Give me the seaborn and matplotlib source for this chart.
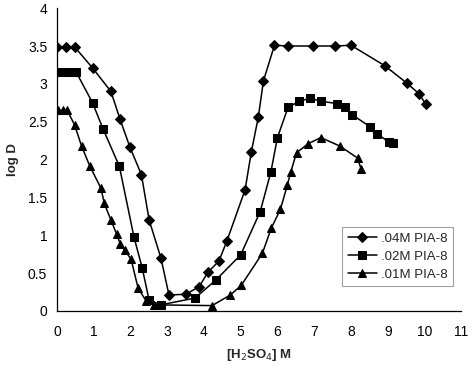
import matplotlib
matplotlib.use("Agg")
import matplotlib.pyplot as plt
import seaborn as sns
import pandas as pd

sns.set_theme(style="white")
plt.rcParams['font.family'] = ['Liberation Sans', 'DejaVu Sans']

x_04 = [0.0, 0.26, 0.48, 0.97, 1.47, 1.72, 1.99, 2.30, 2.51, 2.83, 3.05, 3.51, 3.87, 4.11,
        4.41, 4.63, 5.12, 5.29, 5.48, 5.62, 5.92, 6.30, 6.96, 7.58, 8.00, 8.92, 9.52, 9.85, 10.04]
y_04 = [3.49, 3.49, 3.49, 3.21, 2.90, 2.53, 2.16, 1.80, 1.20, 0.70, 0.21, 0.22, 0.32, 0.51,
        0.66, 0.93, 1.60, 2.10, 2.56, 3.04, 3.51, 3.50, 3.50, 3.50, 3.51, 3.24, 3.01, 2.87, 2.73]

x_02 = [0.01, 0.22, 0.35, 0.52, 0.97, 1.26, 1.70, 2.10, 2.32, 2.51, 2.83, 3.76, 4.33, 5.00,
        5.53, 5.82, 6.00, 6.29, 6.60, 6.89, 7.19, 7.61, 7.83, 8.04, 8.53, 8.72, 9.03, 9.14]
y_02 = [3.16, 3.16, 3.16, 3.16, 2.75, 2.40, 1.91, 0.97, 0.57, 0.14, 0.08, 0.17, 0.41, 0.74,
        1.31, 1.83, 2.29, 2.69, 2.77, 2.81, 2.77, 2.74, 2.70, 2.59, 2.43, 2.34, 2.23, 2.22]

x_01 = [0.04, 0.17, 0.28, 0.48, 0.67, 0.89, 1.20, 1.29, 1.47, 1.63, 1.72, 1.85, 2.02, 2.21,
        2.43, 2.64, 4.22, 4.72, 5.02, 5.59, 5.83, 6.08, 6.27, 6.36, 6.52, 6.84, 7.18, 7.69,
        8.18, 8.28]
y_01 = [2.65, 2.65, 2.65, 2.46, 2.18, 1.92, 1.62, 1.42, 1.20, 1.01, 0.89, 0.80, 0.68, 0.30,
        0.13, 0.08, 0.07, 0.21, 0.34, 0.76, 1.09, 1.34, 1.66, 1.83, 2.09, 2.21, 2.29, 2.18,
        2.02, 1.87]

labels = [".04M PIA-8", ".02M PIA-8", ".01M PIA-8"]
markers = ["D", "s", "^"]
sizes = [5, 5.5, 5.5]

fig = plt.figure(figsize=(4.74, 3.71), dpi=100)
ax = fig.add_axes([0.120, 0.162, 0.853, 0.816])

for xs, ys, lab, m, ms in zip([x_04, x_02, x_01], [y_04, y_02, y_01], labels, markers, sizes):
    df = pd.DataFrame({"x": xs, "y": ys})
    sns.lineplot(data=df, x="x", y="y", sort=False, ax=ax, color="black", lw=1.1,
                 marker=m, markersize=ms, markeredgecolor="black", markerfacecolor="black",
                 label=lab)

ax.set_xlim(0, 11)
ax.set_ylim(0, 4)
ax.set_xticks(range(0, 12))
ax.set_yticks([0, 0.5, 1, 1.5, 2, 2.5, 3, 3.5, 4])
ax.set_yticklabels(["0", "0.5", "1", "1.5", "2", "2.5", "3", "3.5", "4"])
ax.tick_params(axis="both", labelsize=10, colors="black", length=3, width=0.8, direction="out")
ax.tick_params(axis="x", pad=7)
ax.tick_params(axis="y", pad=4)
for s in ["top", "right"]:
    ax.spines[s].set_visible(False)
for s in ["left", "bottom"]:
    ax.spines[s].set_color("black")
    ax.spines[s].set_linewidth(0.9)

ax.set_xlabel("[H$_2$SO$_4$] M", fontsize=9.5, fontweight="bold", labelpad=6)
ax.set_ylabel("log D", fontsize=9.5, fontweight="bold", labelpad=6)

leg = ax.legend(loc="lower left", bbox_to_anchor=(0.69, 0.06), fontsize=9.5, frameon=True,
                fancybox=False, edgecolor="#888888", handlelength=2.2, handletextpad=0.3,
                borderpad=0.4, labelspacing=0.45)
leg.get_frame().set_linewidth(0.8)

fig.savefig("out.png", dpi=100)
